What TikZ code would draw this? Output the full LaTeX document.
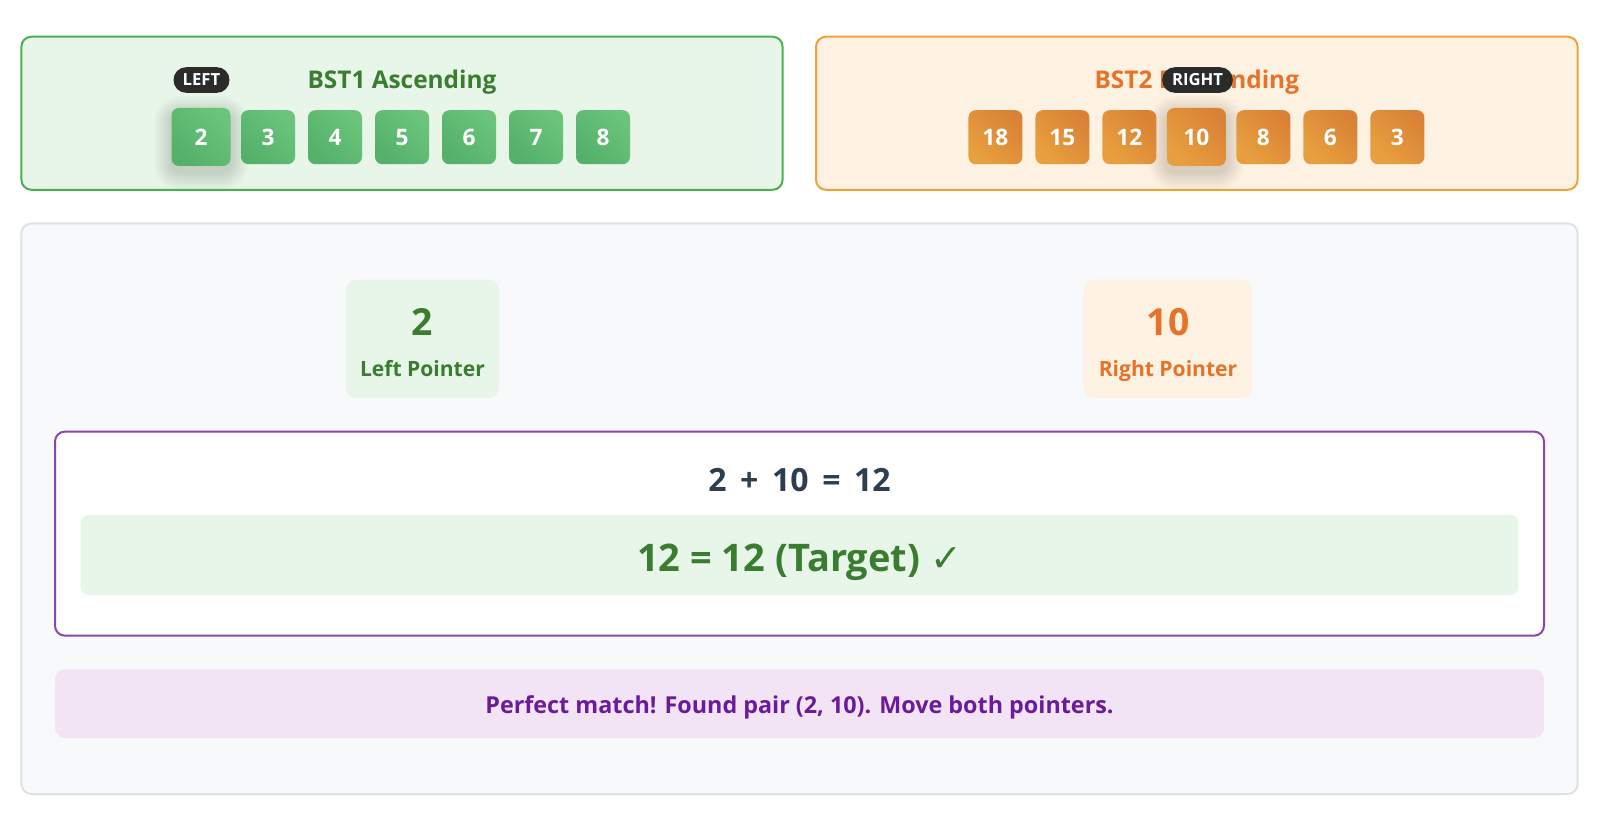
\documentclass[tikz,border=0pt]{standalone}
\usepackage{fontspec}
\setmainfont{Open Sans}
\newfontfamily\symfont{DejaVu Sans}
\definecolor{gborder}{HTML}{4CAF50}
\definecolor{gfill}{HTML}{E8F5E9}
\definecolor{gtext}{HTML}{3A7D30}
\definecolor{oborder}{HTML}{EDA23A}
\definecolor{ofill}{HTML}{FDF2E2}
\definecolor{otext}{HTML}{E5732A}
\definecolor{gcellA}{HTML}{55B06A}
\definecolor{gcellB}{HTML}{6AC47B}
\definecolor{ocellA}{HTML}{E8A03E}
\definecolor{ocellB}{HTML}{D98236}
\definecolor{badgec}{HTML}{2B2B2B}
\definecolor{contfill}{HTML}{F8F9FA}
\definecolor{contborder}{HTML}{DEE2E6}
\definecolor{pborder}{HTML}{8E44AD}
\definecolor{pfill}{HTML}{F2E4F4}
\definecolor{ptext}{HTML}{6A1B9A}
\definecolor{eqtext}{HTML}{2C3E50}
\tikzset{
  txt/.style={inner sep=0pt, text depth=0pt},
  cellbase/.style={rounded corners=5.5pt, shading angle=135,
     minimum width=40.5pt, minimum height=40.5pt, inner sep=0pt, text=white,
     font=\bfseries\fontsize{17}{17}\selectfont, text height=12.1pt, text depth=0pt},
  gcell/.style={left color=gcellA, right color=gcellB, cellbase},
  ocell/.style={left color=ocellA, right color=ocellB, cellbase},
  hicell/.style={minimum width=44.25pt, minimum height=43.5pt},
  badge/.style={fill=badgec, rounded corners=9.5pt, minimum height=19.2pt, inner sep=0pt,
     text=white, font=\bfseries\fontsize{12.5}{12.5}\selectfont, text height=8.9pt, text depth=0pt},
  panelbox/.style={line width=1.5pt, rounded corners=7.5pt},
}
\begin{document}
\begin{tikzpicture}[x=0.75pt,y=-0.75pt]
\useasboundingbox (0,0) rectangle (1600,813);
\fill[white] (0,0) rectangle (1600,813);

% ---- top panels
\draw[panelbox, draw=gborder, fill=gfill] (21.4,36.7) rectangle (782.6,189.8);
\draw[panelbox, draw=oborder, fill=ofill] (816,36.7) rectangle (1577.6,189.8);

\node[txt, text=gtext, font=\bfseries\fontsize{18.3}{18.3}\selectfont, text height=13.07pt] (t1) at (402,79.6) {BST1 Ascending};
\node[txt, text=otext, font=\bfseries\fontsize{18.3}{18.3}\selectfont, text height=13.07pt] (t2) at (1196.8,79.6) {BST2 Descending};

% soft shadows for highlighted cells
\foreach \cx in {201,1196.4}{
  \foreach \s in {2,4,...,18}{
    \fill[black, opacity=0.014, rounded corners=7pt+0.75*\s] (\cx-29.5-\s,137+6-29-\s) rectangle (\cx+29.5+\s,137+6+29+\s);
  }
}

% BST1 cells
\node[gcell, hicell] (g0) at (201,137) {2};
\foreach \v [count=\i] in {3,4,5,6,7,8}
  \node[gcell] (g\i) at ({201+67*\i},137.2) {\v};

% BST2 cells
\foreach \v [count=\i from 0] in {18,15,12}
  \node[ocell] (o\i) at ({995.4+67*\i},137.2) {\v};
\node[ocell, hicell] (o3) at (1196.4,137) {10};
\foreach \v [count=\i from 4] in {8,6,3}
  \node[ocell] (o\i) at ({995.4+67*\i},137.2) {\v};

% badges
\node[badge, minimum width=42pt] (leftb) at (201.5,80) {LEFT};
\node[badge, minimum width=53pt] (rightb) at (1197.5,80) {RIGHT};

% ---- container
\draw[line width=1.5pt, draw=contborder, fill=contfill, rounded corners=7.5pt] (21.4,223.5) rectangle (1577.6,794);

% pointer boxes
\fill[gfill, rounded corners=7.5pt] (346,279.6) rectangle (499,398);
\node[txt, text=gtext, font=\bfseries\fontsize{28}{28}\selectfont, text height=20pt] (lpv) at (422.5,322.5) {2};
\node[txt, text=gtext, font=\bfseries\fontsize{15.8}{15.8}\selectfont, text height=11.28pt] (lpl) at (422.5,369.4) {Left Pointer};

\fill[ofill, rounded corners=7.5pt] (1083.7,279.6) rectangle (1252,398);
\node[txt, text=otext, font=\bfseries\fontsize{28}{28}\selectfont, text height=20pt] (rpv) at (1168,322.5) {10};
\node[txt, text=otext, font=\bfseries\fontsize{15.8}{15.8}\selectfont, text height=11.28pt] (rpl) at (1168,369.4) {Right Pointer};

% purple sum box
\draw[line width=1.5pt, draw=pborder, fill=white, rounded corners=7.5pt] (55,431.6) rectangle (1544,635.7);
\node[txt, text=eqtext, font=\bfseries\fontsize{24}{24}\selectfont, text height=17.1pt] (eq) at (799.5,479.6) {2\hspace{4pt} +\hspace{4pt} 10\hspace{4pt} =\hspace{4pt} 12};
\fill[gfill, rounded corners=6pt] (80.6,515) rectangle (1518.4,595);
\node[txt, text=gtext, font=\bfseries\fontsize{28.5}{28.5}\selectfont, text height=20.35pt] (res) at (799.5,558) {12 = 12 (Target) {\symfont ✓}};

% message
\fill[pfill, rounded corners=7.5pt] (55,669.4) rectangle (1544,737.8);
\node[txt, text=ptext, font=\bfseries\fontsize{17.5}{17.5}\selectfont, text height=12.5pt] (msg) at (799.5,705) {Perfect match! Found pair (2, 10). Move both pointers.};
\end{tikzpicture}
\end{document}
